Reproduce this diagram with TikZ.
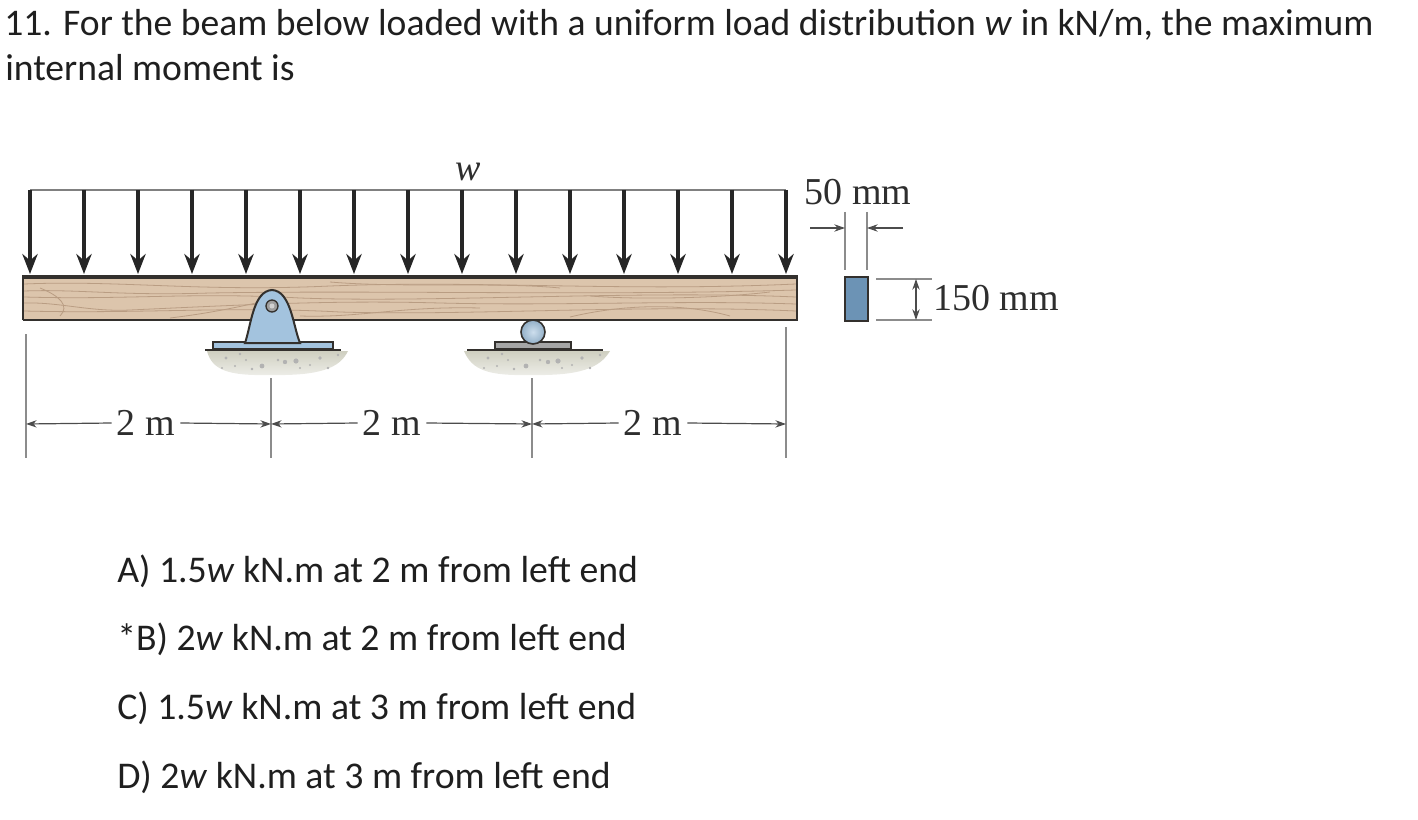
\documentclass[tikz,border=0pt]{standalone}
\usepackage{fontspec}
\setmainfont{Carlito}
\newfontfamily\bookfont{Liberation Serif}
\usetikzlibrary{arrows.meta}
\definecolor{woodfill}{HTML}{DCC5AC}
\definecolor{grain}{HTML}{B99D83}
\definecolor{steelblue}{HTML}{A3C3DE}
\definecolor{sectionblue}{HTML}{6C93B5}
\definecolor{edge}{HTML}{33302D}
\definecolor{soil}{HTML}{CFCFC0}
\tikzset{
  x=0.75pt,y=-0.75pt,
  question/.style={anchor=base west,inner sep=0pt,font=\fontsize{28.3}{32}\selectfont,text=black!88},
  headline/.style={question,font=\fontsize{28.2}{32}\selectfont},
  booklabel/.style={inner sep=0pt,outer sep=4pt,font=\bookfont\fontsize{28.5}{32}\selectfont,text=black!82},
  loadarrow/.style={line width=2.3pt,draw=black!85,-{Stealth[length=15pt,width=11.5pt]}},
  extline/.style={line width=1pt,draw=black!45},
  dimline/.style={line width=0.9pt,draw=black!70,-{Stealth[length=8pt,width=5.5pt]}},
  woodgrain/.style={line width=0.6pt,draw=grain},
  speck/.style={fill=black!30,draw=none},
}
\begin{document}
\begin{tikzpicture}
\useasboundingbox (0,0) rectangle (1418,820);
% question text
\node[headline] (q1) at (4,36) {11. For the beam below loaded with a uniform load distribution \textit{w} in kN/m, the maximum};
\node[headline] (q2) at (5,81) {internal moment is};
\node[question] (a) at (117,582) {A) 1.5\textit{w} kN.m at 2 m from left end};
\node[question] (b) at (117,650) {*B) 2\textit{w} kN.m at 2 m from left end};
\node[question] (c) at (117,719) {C) 1.5\textit{w} kN.m at 3 m from left end};
\node[question] (d) at (117,788) {D) 2\textit{w} kN.m at 3 m from left end};
% beam
\fill[woodfill] (23,277) rectangle (797,320);
\begin{scope}
\clip (23,277) rectangle (797,320);
\draw[woodgrain] (24,284) .. controls (120,280) and (200,292) .. (330,286) .. controls (480,280) and (620,292) .. (796,284);
\draw[woodgrain] (24,291) .. controls (80,289) and (120,296) .. (210,293) .. controls (380,290) and (600,296) .. (796,290);
\draw[woodgrain] (24,297) .. controls (130,300) and (190,292) .. (300,298) .. controls (430,303) and (640,290) .. (796,297);
\draw[woodgrain] (24,303) .. controls (60,302) and (90,312) .. (130,310) .. controls (240,305) and (330,300) .. (440,303) .. controls (560,306) and (680,300) .. (796,304);
\draw[woodgrain] (24,311) .. controls (140,314) and (230,306) .. (340,312) .. controls (470,316) and (640,304) .. (796,311);
\draw[woodgrain] (170,318) .. controls (220,312) and (250,304) .. (270,300);
\draw[woodgrain] (570,317) .. controls (620,305) and (680,302) .. (730,316);
\draw[woodgrain] (590,296) .. controls (640,300) and (720,298) .. (770,292);
\draw[woodgrain] (40,288) .. controls (60,296) and (70,306) .. (60,316);
\draw[woodgrain] (300,316) .. controls (360,318) and (400,306) .. (480,308);
\draw[woodgrain] (330,282) .. controls (400,288) and (500,282) .. (560,288);
\end{scope}
\draw[edge,line width=1.5pt] (23,320) -- (23,277) (797,277) -- (797,320) -- (23,320);
\draw[edge,line width=2.6pt] (22,277) -- (798,277);
% load
\coordinate (loadL) at (30,190);
\coordinate (loadR) at (786,190);
\draw[line width=1.2pt,draw=black!50] (loadL) -- (loadR);
\foreach \i in {0,...,14}{
  \coordinate (top\i) at (30+54*\i,190);
  \coordinate (tip\i) at (30+54*\i,274);
  \draw[loadarrow] (top\i) -- (tip\i);
}
\node[booklabel,font=\bookfont\itshape\fontsize{28.5}{32}\selectfont] (wlabel) at (468,172) {w};
% left support
\shade[top color=soil,bottom color=soil!35] (207,351) .. controls (212,370) and (228,376) .. (270,375) .. controls (320,376) and (340,368) .. (348,351) -- cycle;
\foreach \px/\py/\pr in {226/358/1.6, 240/354/1.4, 222/368/1.2, 252/369/1.4, 262/366/2.4, 278/360/1.4, 285/362/2.2, 296/361/2.6, 320/358/1.8, 328/368/1.4, 235/366/1.2, 300/368/1.2, 338/355/1.4, 246/360/1.2, 310/365/1.2}
  \fill[speck] (\px,\py) circle[radius=\pr*0.75pt];
\draw[edge,line width=1pt] (205,350) -- (341,350);
\draw[edge,line width=1pt,fill=steelblue] (213,342) rectangle (333,349);
\draw[edge,line width=1.5pt,fill=steelblue] (245,343) .. controls (251,326) and (253,291) .. (272,290) .. controls (291,291) and (293,326) .. (300,343) -- cycle;
\draw[edge,line width=1pt,fill=black!38] (272,306) circle[radius=4.5pt];
\fill[black!18] (272,306) circle[radius=1.9pt];
% right support
\shade[top color=soil,bottom color=soil!35] (464,351) .. controls (472,370) and (488,376) .. (530,375) .. controls (580,376) and (600,368) .. (610,351) -- cycle;
\foreach \px/\py/\pr in {488/358/1.6, 502/354/1.4, 484/368/1.2, 514/369/1.4, 526/366/2.4, 540/360/1.4, 548/362/2.2, 558/361/2.6, 582/358/1.8, 590/368/1.4, 497/366/1.2, 562/368/1.2, 600/355/1.4, 508/360/1.2, 572/365/1.2}
  \fill[speck] (\px,\py) circle[radius=\pr*0.75pt];
\draw[edge,line width=1pt] (467,350) -- (603,350);
\draw[edge,line width=1pt,fill=black!35] (495,342) rectangle (571,349);
\shade[draw=edge,line width=1.2pt,inner color=steelblue!55,outer color=steelblue!90!black] (533,332) circle[radius=9pt];
% extension lines
\coordinate (e0t) at (26,334);  \coordinate (e0b) at (26,458);
\coordinate (e1t) at (271,378); \coordinate (e1b) at (271,458);
\coordinate (e2t) at (532,378); \coordinate (e2b) at (532,458);
\coordinate (e3t) at (786,327); \coordinate (e3b) at (786,458);
\draw[extline] (e0t) -- (e0b);
\draw[extline] (e1t) -- (e1b);
\draw[extline] (e2t) -- (e2b);
\draw[extline] (e3t) -- (e3b);
\coordinate (d0) at (26,424);
\coordinate (d1) at (271,424);
\coordinate (d2) at (532,424);
\coordinate (d3) at (786,424);
\node[booklabel] (s1) at (146,423) {2 m};
\node[booklabel] (s2) at (392,423) {2 m};
\node[booklabel] (s3) at (653,423) {2 m};
\draw[dimline] (s1.west) -- (d0);
\draw[dimline] (s1.east) -- (d1);
\draw[dimline] (s2.west) -- (d1);
\draw[dimline] (s2.east) -- (d2);
\draw[dimline] (s3.west) -- (d2);
\draw[dimline] (s3.east) -- (d3);
% cross section
\draw[edge,line width=1.5pt,fill=sectionblue] (845,277) rectangle (868,321);
\coordinate (w1t) at (845,212); \coordinate (w1b) at (845,270);
\coordinate (w2t) at (867,212); \coordinate (w2b) at (867,270);
\draw[extline] (w1t) -- (w1b);
\draw[extline] (w2t) -- (w2b);
\coordinate (w1a) at (845,228); \coordinate (w1s) at (810,228);
\coordinate (w2a) at (867,228); \coordinate (w2s) at (903,228);
\draw[dimline] (w1s) -- (w1a);
\draw[dimline] (w2s) -- (w2a);
\node[booklabel] (wtext) at (858,192) {50 mm};
\coordinate (h1l) at (876,279); \coordinate (h1r) at (932,279);
\coordinate (h2l) at (876,320); \coordinate (h2r) at (932,320);
\draw[extline] (h1l) -- (h1r);
\draw[extline] (h2l) -- (h2r);
\coordinate (hm) at (916,299); \coordinate (ht) at (916,279); \coordinate (hb) at (916,320);
\draw[dimline] (hm) -- (ht);
\draw[dimline] (hm) -- (hb);
\node[booklabel,anchor=west,outer sep=0pt] (htext) at (933,298) {150 mm};
\end{tikzpicture}
\end{document}
